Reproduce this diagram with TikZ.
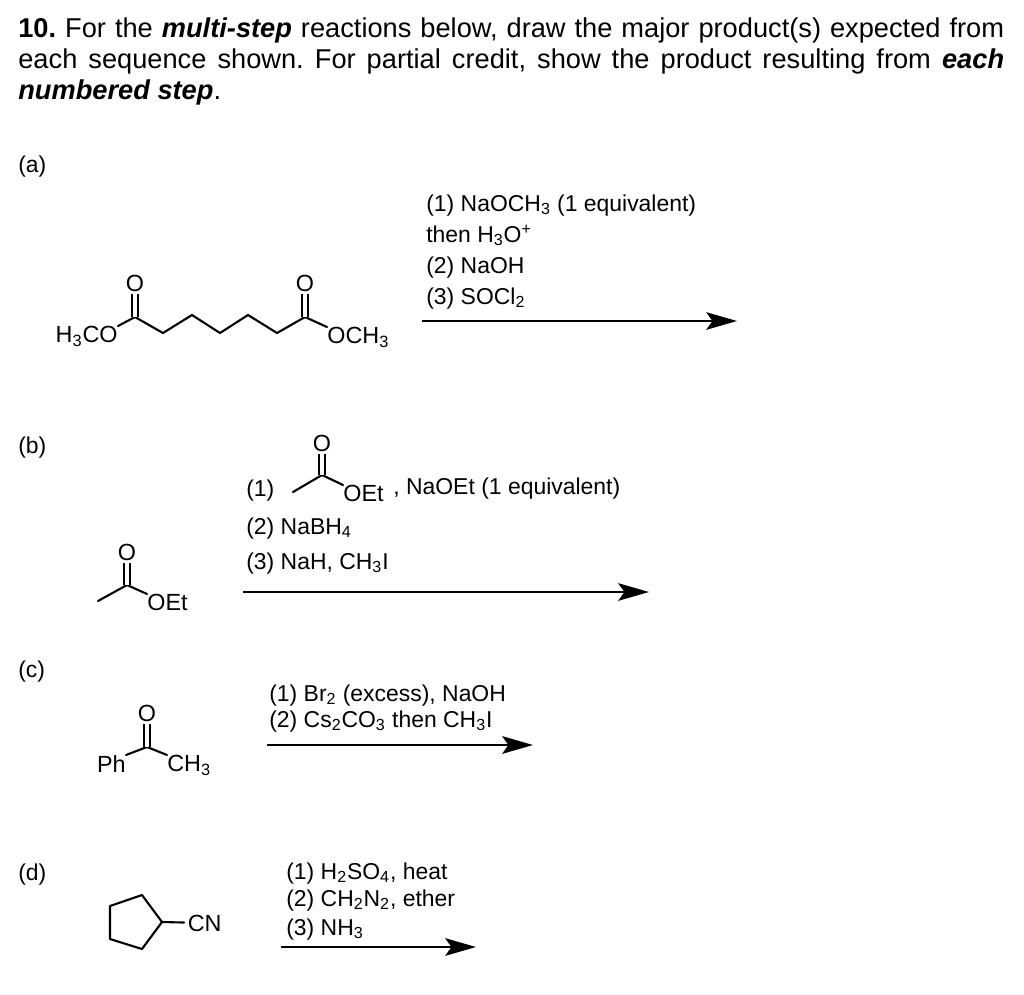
\documentclass[tikz,border=0pt]{standalone}
\usepackage{fontspec}
\setmainfont{Liberation Sans}
\usepackage{tikz}
\usetikzlibrary{arrows.meta}
\newcommand{\sub}[1]{\textsubscript{#1}}
\newcommand{\sups}[1]{\textsuperscript{#1}}
\frenchspacing

\begin{document}
\begin{tikzpicture}[x=0.02cm, y=-0.02cm,
		head/.style={anchor=base west, inner sep=0pt, font=\fontsize{15.5}{18}\selectfont},
		txt/.style={anchor=base west, inner sep=0pt, font=\fontsize{13.05}{15}\selectfont},
		atom/.style={inner sep=0pt, font=\fontsize{13.3}{15}\selectfont},
		oxy/.style={atom, inner sep=1.5pt},
		bond/.style={black, line width=1.2pt, line cap=round, line join=round},
		dbl/.style={black, line width=1pt, double, double distance=2.4pt},
		rxn/.style={black, line width=1.2pt, -{Stealth[length=17.5pt, width=10pt, inset=3.5pt]}}]
	\useasboundingbox (0,0) rectangle (1024,994);
	% question
	\node[head] (q1) at (18, 37) {\makebox[19.72cm][s]{\textbf{10.} For the \textbf{\textit{multi-step}} reactions below, draw the major product(s) expected from}};
	\node[head] (q2) at (18, 68) {\makebox[19.72cm][s]{each sequence shown. For partial credit, show the product resulting from \textbf{\textit{each}}}};
	\node[head] (q3) at (18, 99) {\textbf{\textit{numbered step}}.};
	\node[txt] (la) at (18, 172) {(a)};
	\node[txt] (lb) at (18, 453) {(b)};
	\node[txt] (lc) at (18, 677) {(c)};
	\node[txt] (ld) at (18, 880) {(d)};

	% (a)
	\node[atom, anchor=north east] (ah3co) at (118, 326) {H\sub{3}CO};
	\node[atom, anchor=north west] (aoch3) at (327, 327) {OCH\sub{3}};
	\node[oxy] (ao1) at (135, 283) {O};
	\node[oxy] (ao2) at (305, 283) {O};
	\coordinate (ac1) at (135, 317);
	\coordinate (ac2) at (163, 333);
	\coordinate (ac3) at (192, 315);
	\coordinate (ac4) at (220, 333);
	\coordinate (ac5) at (248, 315);
	\coordinate (ac6) at (277, 333);
	\coordinate (ac7) at (305, 317);
	\draw[bond] (ah3co.north east) -- (ac1) -- (ac2) -- (ac3) -- (ac4) -- (ac5) -- (ac6) -- (ac7) -- (aoch3.north west);
	\draw[dbl] (ac1) -- (ao1);
	\draw[dbl] (ac7) -- (ao2);
	\node[txt] (ra1) at (426, 211) {(1) NaOCH\sub{3} (1 equivalent)};
	\node[txt] (ra2) at (426, 242) {then H\sub{3}O\sups{+}};
	\node[txt] (ra3) at (426, 273) {(2) NaOH};
	\node[txt] (ra4) at (426, 304) {(3) SOCl\sub{2}};
	\coordinate (aa1) at (422, 321);
	\coordinate (aa2) at (737, 321);
	\draw[rxn] (aa1) -- (aa2);

	% (b)
	\node[atom, anchor=north west] (boet) at (147, 594) {OEt};
	\node[oxy] (bo) at (127, 552) {O};
	\coordinate (bc1) at (98, 601);
	\coordinate (bc2) at (127, 585);
	\draw[bond] (bc1) -- (bc2) -- (boet.north west);
	\draw[dbl] (bc2) -- (bo);
	\node[txt] (rb1) at (246, 496) {(1)};
	\node[atom, anchor=north west] (rboet) at (343, 485) {OEt};
	\node[oxy] (rbo) at (322, 443) {O};
	\coordinate (rc1) at (293, 492);
	\coordinate (rc2) at (322, 475);
	\draw[bond] (rc1) -- (rc2) -- (rboet.north west);
	\draw[dbl] (rc2) -- (rbo);
	\node[txt] (rb1b) at (393, 494) {, NaOEt (1 equivalent)};
	\node[txt] (rb2) at (246, 534) {(2) NaBH\sub{4}};
	\node[txt] (rb3) at (246, 569) {(3) NaH, CH\sub{3}I};
	\coordinate (ba1) at (243, 592);
	\coordinate (ba2) at (649, 592);
	\draw[rxn] (ba1) -- (ba2);

	% (c)
	\node[atom, anchor=north east] (cph) at (126, 755) {Ph};
	\node[atom, anchor=north west] (cch3) at (167, 755) {CH\sub{3}};
	\node[oxy] (co) at (147, 713) {O};
	\coordinate (cc1) at (147, 747);
	\draw[bond] (cph.north east) -- (cc1) -- (cch3.north west);
	\draw[dbl] (cc1) -- (co);
	\node[txt] (rc1t) at (269, 701) {(1) Br\sub{2} (excess), NaOH};
	\node[txt] (rc2t) at (269, 727) {(2) Cs\sub{2}CO\sub{3} then CH\sub{3}I};
	\coordinate (ca1) at (267, 745);
	\coordinate (ca2) at (533, 745);
	\draw[rxn] (ca1) -- (ca2);

	% (d)
	\node[atom, anchor=west, inner xsep=2pt] (dcn) at (184, 923) {CN};
	\coordinate (dr1) at (162, 922);
	\coordinate (dr2) at (142, 895);
	\coordinate (dr3) at (110, 906);
	\coordinate (dr4) at (110, 939);
	\coordinate (dr5) at (142, 949);
	\draw[bond] (dr1) -- (dr2) -- (dr3) -- (dr4) -- (dr5) -- cycle;
	\draw[bond] (dr1) -- (dcn);
	\node[txt] (rd1) at (286, 879) {(1) H\sub{2}SO\sub{4}, heat};
	\node[txt] (rd2) at (286, 906) {(2) CH\sub{2}N\sub{2}, ether};
	\node[txt] (rd3) at (286, 935) {(3) NH\sub{3}};
	\coordinate (da1) at (281, 947);
	\coordinate (da2) at (476, 947);
	\draw[rxn] (da1) -- (da2);
\end{tikzpicture}
\end{document}
